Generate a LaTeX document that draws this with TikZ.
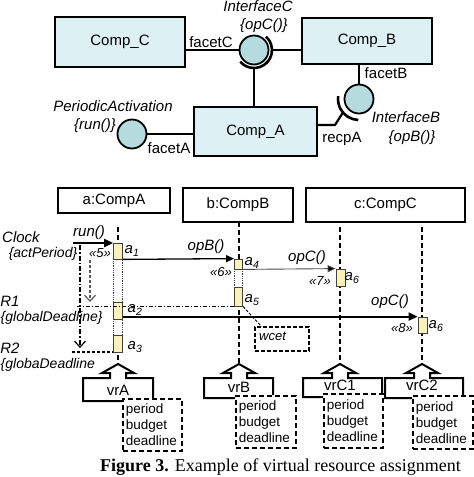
\documentclass[tikz,border=0pt]{standalone}
\usepackage{fontspec}
\setmainfont{Liberation Serif}
\setsansfont{Liberation Sans}
\usetikzlibrary{arrows.meta,calc}
\definecolor{boxfill}{HTML}{DDF0F3}
\definecolor{circfill}{HTML}{B6DBDF}
\definecolor{barfill}{HTML}{FBF1BA}
\begin{document}
\begin{tikzpicture}[x=1pt,y=-1pt,
  font=\sffamily\fontsize{15}{17}\selectfont,
  compbox/.style={draw, line width=1.8pt, fill=boxfill, inner sep=0pt},
  iface/.style={circle, draw, line width=1.8pt, fill=circfill, minimum size=29pt, inner sep=0pt},
  socket/.style={line width=2.6pt},
  lifebox/.style={draw, line width=1.8pt, fill=white, inner sep=0pt},
  lifeline/.style={line width=1.6pt, dash pattern=on 5pt off 3pt},
  actbar/.style={draw=black!75, line width=0.8pt, fill=barfill, inner sep=0pt},
  gapbar/.style={draw=black!75, line width=0.8pt, densely dotted, fill=white, inner sep=0pt},
  lbl/.style={inner sep=0pt},
  ilbl/.style={inner sep=0pt, font=\sffamily\itshape\fontsize{15}{17}\selectfont},
  slbl/.style={inner sep=0pt, font=\sffamily\itshape\fontsize{14}{16}\selectfont},
  glbl/.style={inner sep=0pt, font=\sffamily\itshape\fontsize{13}{15}\selectfont},
  msg/.style={line width=1.3pt, -{Triangle[length=8pt,width=7pt]}},
  vrline/.style={line width=2pt, line join=miter},
  resbox/.style={draw, line width=1.8pt, dash pattern=on 5pt off 3pt, fill=white, anchor=north west, inner xsep=3pt, inner ysep=0pt, align=left, font=\sffamily\fontsize{13.5}{16}\selectfont},
  varrow/.style={line width=1.2pt, -{Straight Barb[length=6pt,width=11pt]}}
]
\useasboundingbox (0,0) rectangle (474,477);

% ---------- component diagram ----------
\node[compbox, minimum width=130pt, minimum height=50pt] (compC) at (120,42) {Comp\_C};
\node[compbox, minimum width=130pt, minimum height=46pt] (compB) at (367,41) {Comp\_B};
\node[compbox, minimum width=123pt, minimum height=49pt] (compA) at (255.5,131.5) {Comp\_A};

\node[iface] (ifC) at (254,50) {};
\node[iface] (ifB) at (359,99) {};
\node[iface] (pa) at (132,134) {};

% InterfaceC
\draw[line width=1.2pt] (compC.east |- ifC.west) -- (ifC.west);
\draw[socket] ([shift={(-48:18)}]ifC.center) arc[start angle=-48, end angle=48, radius=18];
\draw[socket] ([shift={(40:18)}]ifC.center) arc[start angle=40, end angle=140, radius=18];
\coordinate (sCr) at ($(ifC.center)+(18,0)$);
\coordinate (sCb) at ($(ifC.center)+(0,18)$);
\draw[socket] (sCr) -- (sCr -| compB.west);
\draw[socket] (sCb) -- (sCb |- compA.north);

% InterfaceB
\draw[line width=1.2pt] (ifB.north |- compB.south) -- (ifB.north);
\draw[socket] ([shift={(92:21)}]ifB.center) arc[start angle=92, end angle=188, radius=21];
\coordinate (sB) at ($(ifB.center)+(140:21)$);
\coordinate (recpK) at (335,125);
\draw[line width=2.2pt] (recpK -| compA.east) -- (recpK) -- (sB);

% PeriodicActivation
\draw[line width=1.8pt] (pa.east) -- (pa.east -| compA.west);

\node[lbl] (tfacetC) at (211,42) {facetC};
\node[lbl] (tfacetB) at (386,73) {facetB};
\node[lbl] (trecpA) at (342,139) {recpA};
\node[lbl] (tfacetA) at (169,148) {facetA};
\node[ilbl] (tifC) at (258,6) {InterfaceC};
\node[ilbl] (tifCop) at (264,26) {\{opC()\}};
\node[ilbl] (tifB) at (406,117) {InterfaceB};
\node[ilbl] (tifBop) at (412,138) {\{opB()\}};
\node[ilbl] (tpa) at (113,106) {PeriodicActivation};
\node[ilbl] (tparun) at (95,126) {\{run()\}};

% ---------- sequence diagram ----------
\node[lifebox, minimum width=112pt, minimum height=25pt] (la) at (114,200.5) {a:CompA};
\node[lifebox, minimum width=110pt, minimum height=34pt] (lb) at (238,205) {b:CompB};
\node[lifebox, minimum width=159pt, minimum height=34pt] (lc) at (385.5,205) {c:CompC};

% virtual resources
\foreach \n/\X/\L/\R/\Bt/\dl/\dr/\dt/\db/\ty in
  {A/118/83/153/401/122/181/398/450/390,
   B/239/204/273/398/235/295/395/447/387,
   C1/340/303/382/397/323/382/393/447/385,
   C2/422/385/463/398/412/472/395/448/385}{
  \coordinate (tip\n) at (\X,364);
  \draw[vrline] (\dl,\Bt) -- (\L,\Bt) -- (\L,378) -- (\X-8,378) -- (\X-8,373) -- (\X-16,373)
     -- (tip\n) -- (\X+16,373) -- (\X+8,373) -- (\X+8,378) -- (\R,378) -- (\R,\dt);
  \node[lbl] (vr\n) at (\X,\ty) {vr\n};
  \node[resbox, text width={\dr-\dl-6}, minimum height={\db-\dt}] (res\n) at (\dl,\dt) {period\\budget\\deadline};
}

% lifelines
\coordinate (laT) at (118,227);
\coordinate (lbT) at (239,222);
\coordinate (lc1T) at (340,227);
\coordinate (lc2T) at (422,227);
\draw[lifeline] (laT) -- (tipA);
\draw[lifeline] (lbT) -- (tipB);
\draw[lifeline] (lc1T) -- (tipC1);
\draw[lifeline] (lc2T) -- (tipC2);

% activation bars
\node[gapbar, minimum width=9pt, minimum height=43pt] (ga1) at (118,280.5) {};
\node[gapbar, minimum width=9pt, minimum height=16pt] (ga2) at (118,327) {};
\node[gapbar, minimum width=8pt, minimum height=18pt] (gb1) at (238.5,278) {};
\node[actbar, minimum width=9pt, minimum height=16pt] (a1) at (118,251) {};
\node[actbar, minimum width=9pt, minimum height=17pt] (a2) at (118,310.5) {};
\node[actbar, minimum width=9pt, minimum height=17pt] (a3) at (118,343.5) {};
\node[actbar, minimum width=8pt, minimum height=10pt] (a4) at (238.5,264) {};
\node[actbar, minimum width=8pt, minimum height=19pt] (a5) at (238.5,296.5) {};
\node[actbar, minimum width=9pt, minimum height=17pt] (a6) at (340.5,277.5) {};
\node[actbar, minimum width=9pt, minimum height=16pt] (a7) at (422.5,325) {};

% deadlines
\coordinate (r1s) at (77,306);
\draw[line width=0.7pt, dash pattern=on 4pt off 2pt on 1pt off 2pt] (r1s) -- (r1s -| a5.west);
\coordinate (r2s) at (72,352);
\draw[line width=1.3pt, densely dashed] (r2s) -- (r2s -| a3.west);

% vertical period arrows
\coordinate (v1t) at (80,245);
\coordinate (v1b) at (80,348);
\coordinate (v2t) at (90,260);
\coordinate (v2b) at (90,302);
\draw[varrow, dash pattern=on 5pt off 2pt on 1.5pt off 2pt] (v1t) -- (v1b);
\draw[varrow, black!65, dash pattern=on 3pt off 2pt] (v2t) -- (v2b);

% messages
\coordinate (clk) at (73,243);
\draw[line width=2pt, -{Triangle[length=9pt,width=8pt]}] (clk) -- (clk -| a1.west);
\draw[msg] (a1.south east) -- (a4.north west);
\draw[line width=0.9pt, black!70, -{Triangle[length=8pt,width=7pt, fill=black]}] (a4.south east) -- (a6.north west);
\draw[line width=2pt, -{Triangle[length=9pt,width=8pt]}] (a7.north west -| a2.east) -- (a7.north west);

% wcet note
\node[draw, line width=1.2pt, dash pattern=on 4pt off 2pt, minimum width=54pt, minimum height=24pt, inner sep=0pt] (wcet) at (282,339) {};
\node[glbl, anchor=west] (twcet) at (259,336) {wcet};
\draw[line width=0.9pt, dash pattern=on 3pt off 1.5pt] (a5.south east) -- ([xshift=7pt]wcet.north west);

% sequence labels
\node[ilbl] (trun) at (89,233) {run()};
\node[ilbl] (tclock) at (21,237) {Clock};
\node[slbl] (tact) at (43,254) {\{actPeriod\}};
\node[glbl] (t5) at (100,253) {«5»};
\node[ilbl] (tR1) at (10,301) {R1};
\node[slbl, anchor=west] (tgd1) at (0.5,318) {\{globalDeadline\}};
\node[ilbl] (tR2) at (10,348) {R2};
\node[slbl, anchor=west] (tgd2) at (0.5,365) {\{globaDeadline};
\node[ilbl] (ta1) at (132,251) {a\textsubscript{1}};
\node[ilbl] (ta2) at (135,310) {a\textsubscript{2}};
\node[ilbl] (ta3) at (135,347) {a\textsubscript{3}};
\node[ilbl] (ta4) at (252,263) {a\textsubscript{4}};
\node[ilbl] (ta5) at (252,300) {a\textsubscript{5}};
\node[ilbl] (ta6) at (352,278) {a\textsubscript{6}};
\node[ilbl] (ta7) at (436,326) {a\textsubscript{6}};
\node[ilbl] (topB) at (206,247) {opB()};
\node[glbl] (t6) at (221,272) {«6»};
\node[ilbl] (topC1) at (307,258) {opC()};
\node[glbl] (t7) at (320,281) {«7»};
\node[ilbl] (topC2) at (390,302) {opC()};
\node[glbl] (t8) at (402,328) {«8»};

% caption
\node[anchor=base west, inner sep=0pt, font=\rmfamily\fontsize{18}{20}\selectfont] (cap) at (100,471) {\textbf{Figure 3.} Example of virtual resource assignment};
\end{tikzpicture}
\end{document}
